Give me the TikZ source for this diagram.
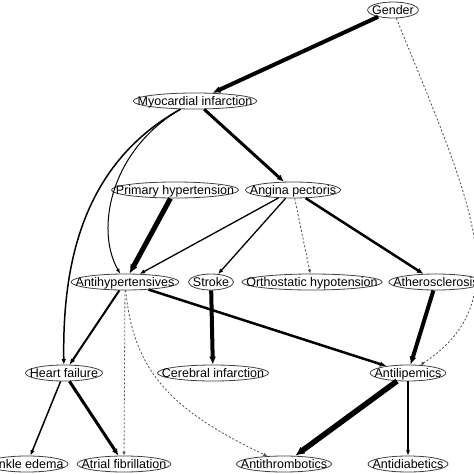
\documentclass[tikz,border=0pt]{standalone}
\usepackage{fontspec}
\setmainfont{Liberation Sans}
\usetikzlibrary{shapes.geometric,arrows.meta}
\begin{document}
\begin{tikzpicture}[x=1pt,y=-1pt,
  nd/.style={ellipse, draw=black!75, line width=0.8pt, inner sep=0pt,
    minimum height=16pt, minimum width={width("#1")+9pt},
    node contents={\makebox[0pt]{\raisebox{-0.36em}[0pt][0pt]{#1}}}},
  ed/.style={line width=#1, -{Latex[length=4pt 1, width=3pt 1]}},
  dsh/.style={line width=0.8pt, black!70, dash pattern=on 2pt off 2pt,
    -{Latex[open, length=4pt, width=3.5pt]}},
]
\fontsize{12.5}{14}\selectfont
\useasboundingbox (0,0) rectangle (474,474);
% nodes
\node (g)   at (393,10)  [nd=Gender];
\node (mi)  at (195,101) [nd=Myocardial infarction];
\node (ph)  at (175,190) [nd=Primary hypertension];
\node (ap)  at (293,190) [nd=Angina pectoris];
\node (ah)  at (125,282) [nd=Antihypertensives];
\node (st)  at (211,282) [nd=Stroke];
\node (oh)  at (312,282) [nd=Orthostatic hypotension];
\node (ath) at (436,282) [nd=Atherosclerosis];
\node (hf)  at (64,373)  [nd=Heart failure];
\node (ci)  at (213,373) [nd=Cerebral infarction];
\node (al)  at (408,373) [nd=Antilipemics];
\node (ae)  at (27,464)  [nd=Ankle edema];
\node (af)  at (124,464) [nd=Atrial fibrillation];
\node (at)  at (284,464) [nd=Antithrombotics];
\node (ad)  at (408,464) [nd=Antidiabetics];
% edges
\draw[ed=4pt] (g) -- (mi);
\draw[dsh] (g) .. controls (470,200) and (520,300) .. (al);
\draw[ed=3pt] (mi) -- (ap);
\draw[ed=1.5pt] (mi) .. controls (90,160) and (62,250) .. (hf);
\draw[ed=1pt] (mi) .. controls (110,150) and (95,230) .. (ah);
\draw[ed=5pt] (ph) -- (ah);
\draw[ed=1.3pt] (ap) -- (ah);
\draw[ed=1.3pt] (ap) -- (st);
\draw[dsh] (ap) -- (oh);
\draw[ed=2.5pt] (ap) -- (ath);
\draw[ed=2pt] (ah) -- (hf);
\draw[ed=2.5pt] (ah) -- (al);
\draw[dsh] (ah) -- (af);
\draw[dsh] (ah) .. controls (133,370) and (170,410) .. (at);
\draw[ed=4pt] (st) -- (ci);
\draw[ed=4pt] (ath) -- (al);
\draw[ed=1.5pt] (hf) -- (ae);
\draw[ed=3pt] (hf) -- (af);
\draw[ed=5.5pt] (al) -- (at);
\draw[ed=1.3pt] (al) -- (ad);
\end{tikzpicture}
\end{document}
